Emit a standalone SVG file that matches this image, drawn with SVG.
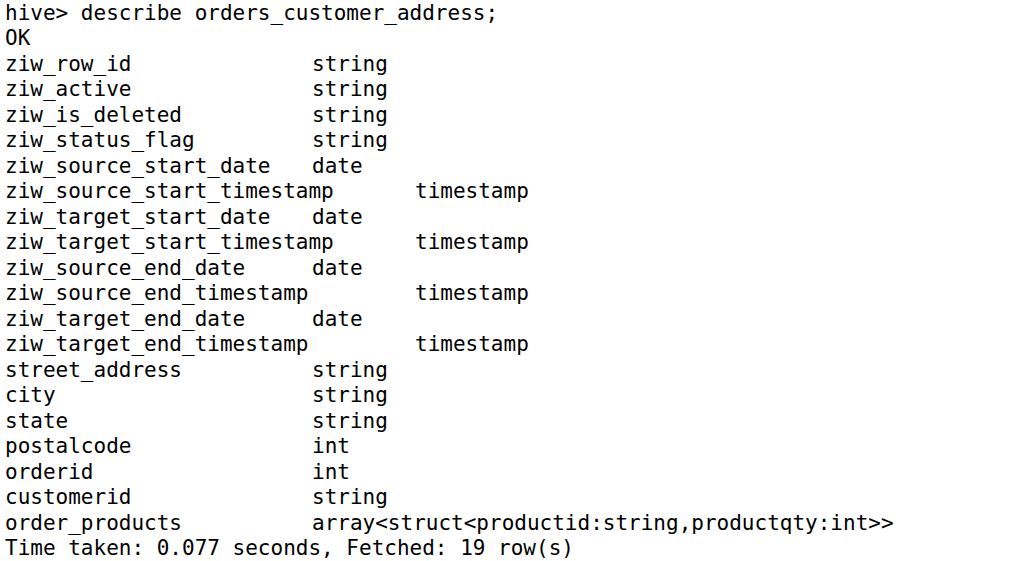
<svg xmlns="http://www.w3.org/2000/svg" width="1024" height="561" viewBox="0 0 1024 561">
<style>text{font-family:"DejaVu Sans Mono","Liberation Mono",monospace;font-size:21px;fill:#000;white-space:pre}</style>
<rect width="1024" height="561" fill="#fff"/>
<g id="output">
<text x="5" y="20">hive&gt; describe orders_customer_address;</text>
<text x="5" y="45">OK</text>
<text x="5" y="71">ziw_row_id</text><text x="312" y="71">string</text>
<text x="5" y="96">ziw_active</text><text x="312" y="96">string</text>
<text x="5" y="122">ziw_is_deleted</text><text x="312" y="122">string</text>
<text x="5" y="147">ziw_status_flag</text><text x="312" y="147">string</text>
<text x="5" y="173">ziw_source_start_date</text><text x="312" y="173">date</text>
<text x="5" y="198">ziw_source_start_timestamp</text><text x="415" y="198">timestamp</text>
<text x="5" y="224">ziw_target_start_date</text><text x="312" y="224">date</text>
<text x="5" y="249">ziw_target_start_timestamp</text><text x="415" y="249">timestamp</text>
<text x="5" y="275">ziw_source_end_date</text><text x="312" y="275">date</text>
<text x="5" y="300">ziw_source_end_timestamp</text><text x="415" y="300">timestamp</text>
<text x="5" y="326">ziw_target_end_date</text><text x="312" y="326">date</text>
<text x="5" y="351">ziw_target_end_timestamp</text><text x="415" y="351">timestamp</text>
<text x="5" y="377">street_address</text><text x="312" y="377">string</text>
<text x="5" y="402">city</text><text x="312" y="402">string</text>
<text x="5" y="428">state</text><text x="312" y="428">string</text>
<text x="5" y="453">postalcode</text><text x="312" y="453">int</text>
<text x="5" y="479">orderid</text><text x="312" y="479">int</text>
<text x="5" y="504">customerid</text><text x="312" y="504">string</text>
<text x="5" y="530">order_products</text><text x="312" y="530">array&lt;struct&lt;productid:string,productqty:int&gt;&gt;</text>
<text x="5" y="555">Time taken: 0.077 seconds, Fetched: 19 row(s)</text>
</g>
</svg>
